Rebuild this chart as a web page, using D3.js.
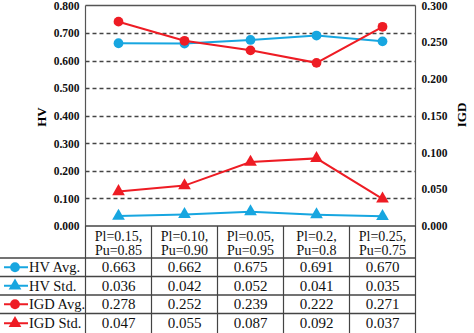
<!DOCTYPE html>
<html><head><meta charset="utf-8">
<script src="https://cdn.jsdelivr.net/npm/d3@7"></script>
<style>body{margin:0;background:#fff}</style>
</head><body>
<svg id="c" width="474" height="333" font-family="Liberation Serif"></svg>
<script>
const categories = [["Pl=0.15,","Pu=0.85"],["Pl=0.10,","Pu=0.90"],["Pl=0.05,","Pu=0.95"],["Pl=0.2,","Pu=0.8"],["Pl=0.25,","Pu=0.75"]];
const hvAvg  = [0.663, 0.662, 0.675, 0.691, 0.670];
const hvStd  = [0.036, 0.042, 0.052, 0.041, 0.035];
const igdAvg = [0.278, 0.252, 0.239, 0.222, 0.271];
const igdStd = [0.047, 0.055, 0.087, 0.092, 0.037];
const leftTicks = [0,0.1,0.2,0.3,0.4,0.5,0.6,0.7,0.8];
const rightTicks = [0,0.05,0.1,0.15,0.2,0.25,0.3];

const FONT="Liberation Serif";
const BLUE="#17a6e0", RED="#ee1c24", GRID="#444";
const svg=d3.select("#c");
const L=85.5, R=415.5, T=5.5, B=226;
const x=d3.scaleBand().domain(d3.range(categories.length)).range([L,R]);
const yL=d3.scaleLinear().domain([0,0.8]).range([B,T]);
const yR=d3.scaleLinear().domain([0,0.3]).range([B,T]);

svg.append("g").selectAll("line").data(leftTicks.filter(d=>d>0&&d<0.8)).join("line")
  .attr("x1",L).attr("x2",R).attr("y1",d=>Math.round(yL(d))+0.5).attr("y2",d=>Math.round(yL(d))+0.5)
  .attr("stroke",GRID).attr("stroke-width",1.3).attr("stroke-dasharray","4,3");
svg.append("line").attr("x1",L).attr("x2",R).attr("y1",T).attr("y2",T).attr("stroke","#555").attr("stroke-width",1.5);
svg.append("line").attr("x1",L).attr("x2",L).attr("y1",T).attr("y2",B).attr("stroke","#555").attr("stroke-width",1.2);
svg.append("line").attr("x1",R).attr("x2",R).attr("y1",T).attr("y2",B).attr("stroke","#555").attr("stroke-width",1.2);

const axL=svg.append("g").attr("transform",`translate(${L},0)`)
  .call(d3.axisLeft(yL).tickValues(leftTicks).tickFormat(d3.format(".3f")).tickSize(0).tickPadding(6));
const axR=svg.append("g").attr("transform",`translate(${R},0)`)
  .call(d3.axisRight(yR).tickValues(rightTicks).tickFormat(d3.format(".3f")).tickSize(0).tickPadding(6));
[axL,axR].forEach(a=>{a.attr("font-family",FONT); a.select(".domain").remove();
  a.selectAll("text").attr("font-family",FONT).attr("font-weight","bold").attr("font-size",11.5).attr("fill","#111");});

svg.append("text").attr("transform","translate(46,117) rotate(-90)").attr("text-anchor","middle")
  .attr("font-family",FONT).attr("font-weight","bold").attr("font-size",13).text("HV");
svg.append("text").attr("transform","translate(466,115) rotate(-90)").attr("text-anchor","middle")
  .attr("font-family",FONT).attr("font-weight","bold").attr("font-size",13).text("IGD");

const cx=i=>x(i)+x.bandwidth()/2;
const series=[
  {name:"HV Avg.",vals:hvAvg,y:yL,color:BLUE,m:"circle"},
  {name:"HV Std.",vals:hvStd,y:yL,color:BLUE,m:"triangle"},
  {name:"IGD Avg.",vals:igdAvg,y:yR,color:RED,m:"circle"},
  {name:"IGD Std.",vals:igdStd,y:yR,color:RED,m:"triangle"}];
const sym=m=>d3.symbol().type(m==="circle"?d3.symbolCircle:d3.symbolTriangle).size(m==="circle"?75:70)();
series.forEach(s=>{
  svg.append("path").datum(s.vals).attr("fill","none").attr("stroke",s.color).attr("stroke-width",2)
    .attr("d",d3.line().x((d,i)=>cx(i)).y(d=>s.y(d)));
  svg.append("g").selectAll("path").data(s.vals).join("path")
    .attr("transform",(d,i)=>`translate(${cx(i)},${s.y(d)})`).attr("d",sym(s.m)).attr("fill",s.color);
});

const rows=[226,258,276.5,295,313.5,333];
const TB="#444";
const tg=svg.append("g");
tg.append("line").attr("x1",L).attr("x2",R).attr("y1",B).attr("y2",B).attr("stroke",TB).attr("stroke-width",1.3);
for(let r=1;r<rows.length-1;r++){
  tg.append("line").attr("x1",0).attr("x2",R).attr("y1",rows[r]).attr("y2",rows[r]).attr("stroke",TB).attr("stroke-width",1.3);
}
d3.range(categories.length+1).forEach(i=>{
  const xv = i<categories.length? x(i): R;
  tg.append("line").attr("x1",xv).attr("x2",xv).attr("y1",B).attr("y2",333).attr("stroke",TB).attr("stroke-width",1.2);
});
const tf=(sel,fs)=>sel.attr("font-family",FONT).attr("font-size",fs||15).attr("fill","#111");
categories.forEach((c,i)=>{
  c.forEach((t,j)=>tf(tg.append("text").attr("x",cx(i)).attr("y",240.5+j*14).attr("text-anchor","middle"),14).text(t));
});
series.forEach((s,r)=>{
  const yc=(rows[r+1]+rows[r+2])/2;
  s.vals.forEach((v,i)=>tf(tg.append("text").attr("x",cx(i)).attr("y",yc+5).attr("text-anchor","middle")).text(d3.format(".3f")(v)));
  tg.append("line").attr("x1",4).attr("x2",28).attr("y1",yc).attr("y2",yc).attr("stroke",s.color).attr("stroke-width",2);
  tg.append("path").attr("transform",`translate(15,${yc})`).attr("d",sym(s.m)).attr("fill",s.color);
  tf(tg.append("text").attr("x",29).attr("y",yc+5),14.5).text(s.name);
});
</script>
</body></html>
